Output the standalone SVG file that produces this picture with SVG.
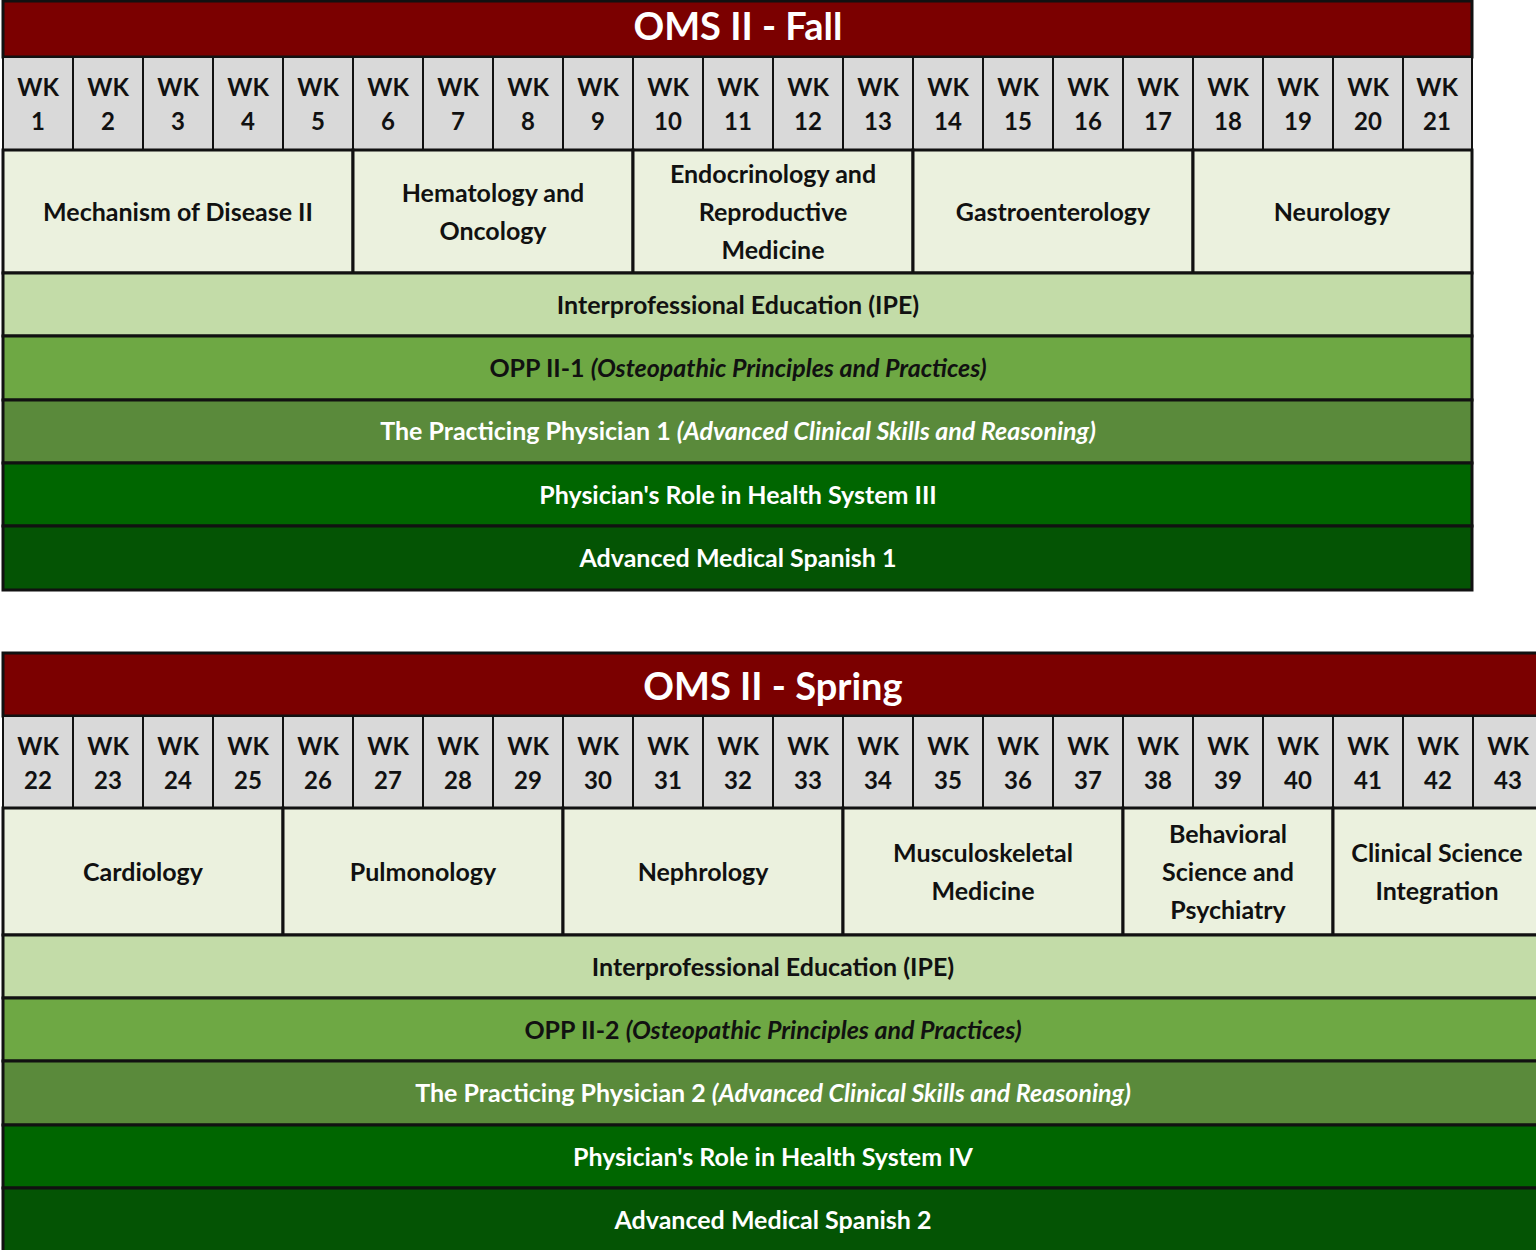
<svg xmlns="http://www.w3.org/2000/svg" width="1536" height="1250" viewBox="0 0 1536 1250">
<style>
text{font-family:Lato,"Open Sans","Liberation Sans",sans-serif;font-weight:bold;text-anchor:middle}
.t{fill:#fff;font-size:38px}
.wk{fill:#d9d9d9;stroke:#111;stroke-width:2}
.wt{font-size:24px;fill:#111}
.c{fill:#ebf1de;stroke:#111;stroke-width:3}
.ct{font-size:25px;fill:#111}
.b{stroke:#111;stroke-width:3}
.w{fill:#fff;font-size:25px}
.k{fill:#111;font-size:25px}
</style>
<rect width="1536" height="1250" fill="#fff"/>
<g id="fall">
<rect x="3" y="1" width="1469" height="56" fill="#7b0000" class="b"/>
<text x="738" y="40" class="t">OMS II - Fall</text>
<g id="fall-weeks">
<rect class="wk" x="3" y="57" width="70" height="93"/><text class="wt" x="38" y="96">WK</text><text class="wt" x="38" y="130">1</text>
<rect class="wk" x="73" y="57" width="70" height="93"/><text class="wt" x="108" y="96">WK</text><text class="wt" x="108" y="130">2</text>
<rect class="wk" x="143" y="57" width="70" height="93"/><text class="wt" x="178" y="96">WK</text><text class="wt" x="178" y="130">3</text>
<rect class="wk" x="213" y="57" width="70" height="93"/><text class="wt" x="248" y="96">WK</text><text class="wt" x="248" y="130">4</text>
<rect class="wk" x="283" y="57" width="70" height="93"/><text class="wt" x="318" y="96">WK</text><text class="wt" x="318" y="130">5</text>
<rect class="wk" x="353" y="57" width="70" height="93"/><text class="wt" x="388" y="96">WK</text><text class="wt" x="388" y="130">6</text>
<rect class="wk" x="423" y="57" width="70" height="93"/><text class="wt" x="458" y="96">WK</text><text class="wt" x="458" y="130">7</text>
<rect class="wk" x="493" y="57" width="70" height="93"/><text class="wt" x="528" y="96">WK</text><text class="wt" x="528" y="130">8</text>
<rect class="wk" x="563" y="57" width="70" height="93"/><text class="wt" x="598" y="96">WK</text><text class="wt" x="598" y="130">9</text>
<rect class="wk" x="633" y="57" width="70" height="93"/><text class="wt" x="668" y="96">WK</text><text class="wt" x="668" y="130">10</text>
<rect class="wk" x="703" y="57" width="70" height="93"/><text class="wt" x="738" y="96">WK</text><text class="wt" x="738" y="130">11</text>
<rect class="wk" x="773" y="57" width="70" height="93"/><text class="wt" x="808" y="96">WK</text><text class="wt" x="808" y="130">12</text>
<rect class="wk" x="843" y="57" width="70" height="93"/><text class="wt" x="878" y="96">WK</text><text class="wt" x="878" y="130">13</text>
<rect class="wk" x="913" y="57" width="70" height="93"/><text class="wt" x="948" y="96">WK</text><text class="wt" x="948" y="130">14</text>
<rect class="wk" x="983" y="57" width="70" height="93"/><text class="wt" x="1018" y="96">WK</text><text class="wt" x="1018" y="130">15</text>
<rect class="wk" x="1053" y="57" width="70" height="93"/><text class="wt" x="1088" y="96">WK</text><text class="wt" x="1088" y="130">16</text>
<rect class="wk" x="1123" y="57" width="70" height="93"/><text class="wt" x="1158" y="96">WK</text><text class="wt" x="1158" y="130">17</text>
<rect class="wk" x="1193" y="57" width="70" height="93"/><text class="wt" x="1228" y="96">WK</text><text class="wt" x="1228" y="130">18</text>
<rect class="wk" x="1263" y="57" width="70" height="93"/><text class="wt" x="1298" y="96">WK</text><text class="wt" x="1298" y="130">19</text>
<rect class="wk" x="1333" y="57" width="70" height="93"/><text class="wt" x="1368" y="96">WK</text><text class="wt" x="1368" y="130">20</text>
<rect class="wk" x="1403" y="57" width="69" height="93"/><text class="wt" x="1437" y="96">WK</text><text class="wt" x="1437" y="130">21</text>
</g>
<g id="fall-courses">
<rect class="c" x="3" y="150" width="350" height="123"/><text class="ct" x="178" y="221">Mechanism of Disease II</text>
<rect class="c" x="353" y="150" width="280" height="123"/><text class="ct" x="493" y="202">Hematology and</text><text class="ct" x="493" y="240">Oncology</text>
<rect class="c" x="633" y="150" width="280" height="123"/><text class="ct" x="773" y="183">Endocrinology and</text><text class="ct" x="773" y="221">Reproductive</text><text class="ct" x="773" y="259">Medicine</text>
<rect class="c" x="913" y="150" width="280" height="123"/><text class="ct" x="1053" y="221">Gastroenterology</text>
<rect class="c" x="1193" y="150" width="279" height="123"/><text class="ct" x="1332" y="221">Neurology</text>
</g>
<g id="fall-rows">
<rect class="b" x="3" y="273" width="1469" height="63" fill="#c3dca8"/><text class="k" x="738" y="314">Interprofessional Education (IPE)</text>
<rect class="b" x="3" y="336" width="1469" height="64" fill="#6ea844"/><text class="k" x="738" y="377">OPP II-1 <tspan font-style="italic">(Osteopathic Principles and Practices)</tspan></text>
<rect class="b" x="3" y="400" width="1469" height="63" fill="#5a8a3b"/><text class="w" x="738" y="440">The Practicing Physician 1 <tspan font-style="italic">(Advanced Clinical Skills and Reasoning)</tspan></text>
<rect class="b" x="3" y="463" width="1469" height="63" fill="#006600"/><text class="w" x="738" y="504">Physician's Role in Health System III</text>
<rect class="b" x="3" y="526" width="1469" height="64" fill="#045404"/><text class="w" x="738" y="567">Advanced Medical Spanish 1</text>
</g>
</g>
<g id="spring">
<rect x="3" y="653" width="1545" height="63" fill="#7b0000" class="b"/>
<text x="773" y="700" class="t">OMS II - Spring</text>
<g id="spring-weeks">
<rect class="wk" x="3" y="716" width="70" height="92"/><text class="wt" x="38" y="755">WK</text><text class="wt" x="38" y="789">22</text>
<rect class="wk" x="73" y="716" width="70" height="92"/><text class="wt" x="108" y="755">WK</text><text class="wt" x="108" y="789">23</text>
<rect class="wk" x="143" y="716" width="70" height="92"/><text class="wt" x="178" y="755">WK</text><text class="wt" x="178" y="789">24</text>
<rect class="wk" x="213" y="716" width="70" height="92"/><text class="wt" x="248" y="755">WK</text><text class="wt" x="248" y="789">25</text>
<rect class="wk" x="283" y="716" width="70" height="92"/><text class="wt" x="318" y="755">WK</text><text class="wt" x="318" y="789">26</text>
<rect class="wk" x="353" y="716" width="70" height="92"/><text class="wt" x="388" y="755">WK</text><text class="wt" x="388" y="789">27</text>
<rect class="wk" x="423" y="716" width="70" height="92"/><text class="wt" x="458" y="755">WK</text><text class="wt" x="458" y="789">28</text>
<rect class="wk" x="493" y="716" width="70" height="92"/><text class="wt" x="528" y="755">WK</text><text class="wt" x="528" y="789">29</text>
<rect class="wk" x="563" y="716" width="70" height="92"/><text class="wt" x="598" y="755">WK</text><text class="wt" x="598" y="789">30</text>
<rect class="wk" x="633" y="716" width="70" height="92"/><text class="wt" x="668" y="755">WK</text><text class="wt" x="668" y="789">31</text>
<rect class="wk" x="703" y="716" width="70" height="92"/><text class="wt" x="738" y="755">WK</text><text class="wt" x="738" y="789">32</text>
<rect class="wk" x="773" y="716" width="70" height="92"/><text class="wt" x="808" y="755">WK</text><text class="wt" x="808" y="789">33</text>
<rect class="wk" x="843" y="716" width="70" height="92"/><text class="wt" x="878" y="755">WK</text><text class="wt" x="878" y="789">34</text>
<rect class="wk" x="913" y="716" width="70" height="92"/><text class="wt" x="948" y="755">WK</text><text class="wt" x="948" y="789">35</text>
<rect class="wk" x="983" y="716" width="70" height="92"/><text class="wt" x="1018" y="755">WK</text><text class="wt" x="1018" y="789">36</text>
<rect class="wk" x="1053" y="716" width="70" height="92"/><text class="wt" x="1088" y="755">WK</text><text class="wt" x="1088" y="789">37</text>
<rect class="wk" x="1123" y="716" width="70" height="92"/><text class="wt" x="1158" y="755">WK</text><text class="wt" x="1158" y="789">38</text>
<rect class="wk" x="1193" y="716" width="70" height="92"/><text class="wt" x="1228" y="755">WK</text><text class="wt" x="1228" y="789">39</text>
<rect class="wk" x="1263" y="716" width="70" height="92"/><text class="wt" x="1298" y="755">WK</text><text class="wt" x="1298" y="789">40</text>
<rect class="wk" x="1333" y="716" width="70" height="92"/><text class="wt" x="1368" y="755">WK</text><text class="wt" x="1368" y="789">41</text>
<rect class="wk" x="1403" y="716" width="70" height="92"/><text class="wt" x="1438" y="755">WK</text><text class="wt" x="1438" y="789">42</text>
<rect class="wk" x="1473" y="716" width="70" height="92"/><text class="wt" x="1508" y="755">WK</text><text class="wt" x="1508" y="789">43</text>
</g>
<g id="spring-courses">
<rect class="c" x="3" y="808" width="280" height="127"/><text class="ct" x="143" y="881">Cardiology</text>
<rect class="c" x="283" y="808" width="280" height="127"/><text class="ct" x="423" y="881">Pulmonology</text>
<rect class="c" x="563" y="808" width="280" height="127"/><text class="ct" x="703" y="881">Nephrology</text>
<rect class="c" x="843" y="808" width="280" height="127"/><text class="ct" x="983" y="862">Musculoskeletal</text><text class="ct" x="983" y="900">Medicine</text>
<rect class="c" x="1123" y="808" width="210" height="127"/><text class="ct" x="1228" y="843">Behavioral</text><text class="ct" x="1228" y="881">Science and</text><text class="ct" x="1228" y="919">Psychiatry</text>
<rect class="c" x="1333" y="808" width="215" height="127"/><text class="ct" x="1437" y="862">Clinical Science</text><text class="ct" x="1437" y="900">Integration</text>
</g>
<g id="spring-rows">
<rect class="b" x="3" y="935" width="1545" height="63" fill="#c3dca8"/><text class="k" x="773" y="976">Interprofessional Education (IPE)</text>
<rect class="b" x="3" y="998" width="1545" height="63" fill="#6ea844"/><text class="k" x="773" y="1039">OPP II-2 <tspan font-style="italic">(Osteopathic Principles and Practices)</tspan></text>
<rect class="b" x="3" y="1061" width="1545" height="64" fill="#5a8a3b"/><text class="w" x="773" y="1102">The Practicing Physician 2 <tspan font-style="italic">(Advanced Clinical Skills and Reasoning)</tspan></text>
<rect class="b" x="3" y="1125" width="1545" height="63" fill="#006600"/><text class="w" x="773" y="1166">Physician's Role in Health System IV</text>
<rect class="b" x="3" y="1188" width="1545" height="64" fill="#045404"/><text class="w" x="773" y="1229">Advanced Medical Spanish 2</text>
</g>
</g>
</svg>
